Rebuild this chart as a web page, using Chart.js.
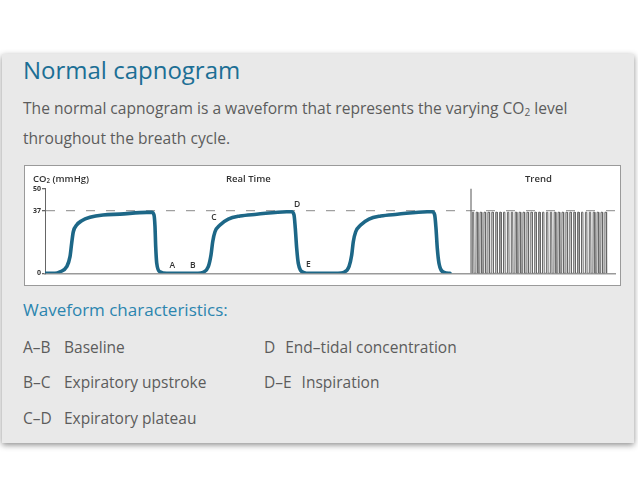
<!DOCTYPE html>
<html>
<head>
<meta charset="utf-8">
<title>Normal capnogram</title>
<script src="https://cdn.jsdelivr.net/npm/chart.js@4.4.1/dist/chart.umd.min.js"></script>
<style>
  html, body { margin: 0; padding: 0; background: #fff; width: 638px; height: 479px; overflow: hidden; font-family: "Open Sans", sans-serif; }
  #card { position: absolute; left: 2px; top: 54px; width: 632px; height: 389px; background: #e9e9e9; box-shadow: 0 2px 6px rgba(0, 0, 0, 0.45); }
  .txt { position: absolute; white-space: nowrap; }
  #title { left: 23px; top: 58px; font-size: 24px; line-height: 24px; color: #1c6f95; }
  #intro { left: 23px; top: 93px; font-size: 15.6px; line-height: 30px; color: #5c5c5c; }
  #intro sub, .box-label sub { font-size: 0.65em; vertical-align: -0.15em; line-height: 0; }
  #chars-title { left: 23px; top: 301px; font-size: 17px; line-height: 17px; color: #2b85af; }
  .item { font-size: 15.5px; line-height: 15.5px; color: #5c5c5c; }
  .code { display: inline-block; }
  .col1 .code { width: 41px; }
  .col2 .code { margin-right: 10px; }
  #box { position: absolute; left: 24px; top: 165px; width: 595px; height: 119px; background: #fff; border: 1px solid #9a9a9a; }
  #box canvas { position: absolute; left: 0; top: 0; }
  .box-label { position: absolute; top: 8px; font-size: 9.5px; line-height: 9.5px; font-weight: 600; color: #333; white-space: nowrap; }
</style>
</head>
<body>
<div id="card"></div>
<div class="txt" id="title">Normal capnogram</div>
<div class="txt" id="intro">The normal capnogram is a waveform that represents the varying CO<sub>2</sub> level<br>throughout the breath cycle.</div>

<div id="box">
  <canvas id="capno" width="595" height="119"></canvas>
  <div class="box-label" style="left: 8px;">CO<sub>2</sub> (mmHg)</div>
  <div class="box-label" style="left: 201px;">Real Time</div>
  <div class="box-label" style="left: 500px;">Trend</div>
</div>

<div class="txt" id="chars-title">Waveform characteristics:</div>
<div class="txt item col1" style="left: 23px; top: 340px;"><span class="code">A–B</span>Baseline</div>
<div class="txt item col1" style="left: 23px; top: 375px;"><span class="code">B–C</span>Expiratory upstroke</div>
<div class="txt item col1" style="left: 23px; top: 411px;"><span class="code">C–D</span>Expiratory plateau</div>
<div class="txt item col2" style="left: 264px; top: 340px;"><span class="code">D</span>End–tidal concentration</div>
<div class="txt item col2" style="left: 264px; top: 375px;"><span class="code">D–E</span>Inspiration</div>

<script>
// Real time waveform: time (arbitrary units) and CO2 (mmHg)
const waveTime = [0, 1.0, 1.5, 2.17, 2.5, 2.67, 2.83, 3.17, 3.67, 4.5, 5.8, 7.5, 10.17, 10.67, 10.9, 11.0, 11.07, 11.17, 11.5, 12.17,
  15.3, 15.83, 16.33, 16.6, 16.77, 17.0, 17.5, 18.33, 19.5, 21.17, 24.17, 24.67, 24.9, 25.03, 25.17, 25.33, 25.83, 26.5,
  29.3, 29.9, 30.4, 30.67, 30.83, 31.07, 31.57, 32.4, 33.57, 35.23, 38.23, 38.73, 38.97, 39.1, 39.23, 39.4, 39.9, 40.5];
const waveCO2 = [0, 0, 0.9, 3.9, 9.8, 17.9, 24.5, 28.5, 31, 33, 34.4, 34.9, 35.9, 35.9, 34.4, 27.5, 15.7, 6.1, 0.9, 0,
  0, 0.6, 3.9, 10.8, 18.6, 24.5, 28.5, 32, 33.8, 34.8, 36.3, 36.3, 34.4, 26.5, 14.7, 5.9, 0.6, 0,
  0, 0.6, 3.9, 10.8, 18.6, 24.5, 28.5, 32, 33.8, 34.8, 36.3, 36.3, 34.4, 26.5, 14.7, 5.9, 0.6, 0];

// Trend: peak CO2 of each breath
const trendPeaks = [36, 36, 36, 36, 36, 36, 36, 36, 36, 36, 36, 36, 36, 36, 36, 36, 36, 36,
  36, 36, 36, 36, 36, 36, 36, 36, 36, 36, 36, 36, 36, 36, 36, 36, 36];
const trendStart = 42.7;
const trendStep = 0.39;

// Y axis
const yTicks = [0, 37, 50];
const endTidal = 37;

// Waveform point labels
const markLetters = ['A', 'B', 'C', 'D', 'E'];
const markTime = [12.73, 14.77, 16.9, 25.2, 26.33];
const markCO2 = [4.3, 4.3, 32.6, 40.8, 4.9];

// Build trend zigzag from the peaks
const trendData = [];
trendPeaks.forEach((p, i) => {
    const s = trendStart + i * trendStep;
    trendData.push({ x: s, y: 0 }, { x: s + 0.03, y: p }, { x: s + 0.17, y: p }, { x: s + 0.2, y: 0 });
});

const waveData = waveTime.map((t, i) => ({ x: t, y: waveCO2[i] }));

// Letters A-E on the waveform
const letterPlugin = {
    id: 'letters',
    afterDatasetsDraw(chart) {
        const { ctx, scales } = chart;
        ctx.save();
        ctx.font = '600 8.5px "Open Sans", sans-serif';
        ctx.fillStyle = '#333';
        ctx.textAlign = 'center';
        ctx.textBaseline = 'middle';
        markLetters.forEach((l, i) => {
            ctx.fillText(l, scales.x.getPixelForValue(markTime[i]), scales.y.getPixelForValue(markCO2[i]));
        });
        ctx.restore();
    }
};

new Chart(document.getElementById('capno'), {
    type: 'line',
    data: {
        datasets: [{
            label: 'Real time',
            data: waveData,
            borderColor: '#1d6787',
            borderWidth: 3.6,
            borderCapStyle: 'round',
            borderJoinStyle: 'round',
            pointRadius: 0,
            cubicInterpolationMode: 'monotone'
        }, {
            label: 'Trend',
            data: trendData,
            borderColor: '#666',
            borderWidth: 1,
            pointRadius: 0,
            tension: 0
        }, {
            label: 'Trend axis',
            data: [{ x: trendStart - 0.1, y: 0 }, { x: trendStart - 0.1, y: 50 }],
            borderColor: '#555',
            borderWidth: 1,
            pointRadius: 0
        }]
    },
    options: {
        responsive: false,
        animation: false,
        layout: { padding: { left: 0, right: 5, top: 22.5, bottom: 11.7 } },
        plugins: { legend: { display: false }, tooltip: { enabled: false } },
        scales: {
            x: {
                type: 'linear',
                min: 0,
                max: 57,
                ticks: { display: false },
                grid: { display: false, drawTicks: false },
                border: { color: '#9a9a9a', width: 1.5 },
                afterFit: s => { s.height = 0; }
            },
            y: {
                min: 0,
                max: 50,
                afterBuildTicks: s => { s.ticks = yTicks.map(v => ({ value: v })); },
                ticks: {
                    color: '#333',
                    padding: 1,
                    font: { family: '"Open Sans", sans-serif', size: 7, weight: '700' }
                },
                grid: {
                    color: c => (c.tick && c.tick.value === endTidal ? '#a0a0a0' : 'rgba(0,0,0,0)'),
                    tickColor: '#666',
                    tickLength: 3,
                    lineWidth: 1.3
                },
                border: { color: '#666', width: 1, dash: [9, 11] },
                afterFit: s => { s.width = 20; }
            }
        }
    },
    plugins: [letterPlugin]
});
</script>
</body>
</html>
